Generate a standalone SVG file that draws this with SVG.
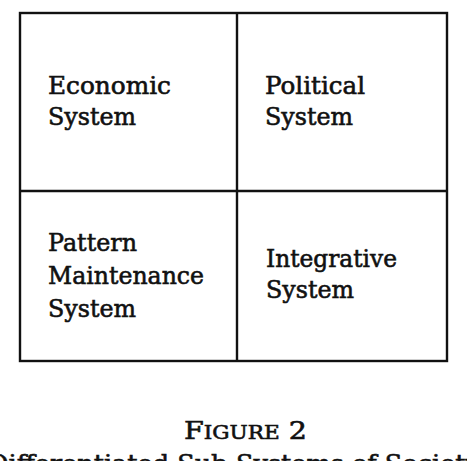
<svg xmlns="http://www.w3.org/2000/svg" width="467" height="461" viewBox="0 0 467 461">
<style>
.lbl{font-family:"DejaVu Serif","Liberation Serif",serif;font-size:24px;fill:#111;stroke:#111;stroke-width:0.6px;}
.frame{stroke:#111;stroke-width:2.4;fill:none;}
.cap{font-family:"DejaVu Serif","Liberation Serif",serif;fill:#111;stroke:#111;stroke-width:0.6px;}
</style>
<rect width="467" height="461" fill="#fff"/>
<g id="connectors">
<rect class="frame" x="20" y="13" width="427" height="348"/>
<line class="frame" x1="237" y1="13" x2="237" y2="361" stroke-width="2"/>
<line class="frame" x1="20" y1="191" x2="447" y2="191"/>
</g>
<g id="economic">
<text class="lbl" x="48" y="93.5" textLength="123" lengthAdjust="spacingAndGlyphs">Economic</text>
<text class="lbl" x="48" y="124.5" textLength="88" lengthAdjust="spacingAndGlyphs">System</text>
</g>
<g id="political">
<text class="lbl" x="265" y="93.5" textLength="100" lengthAdjust="spacingAndGlyphs">Political</text>
<text class="lbl" x="265" y="124.5" textLength="88" lengthAdjust="spacingAndGlyphs">System</text>
</g>
<g id="pattern">
<text class="lbl" x="48" y="250.5" textLength="89" lengthAdjust="spacingAndGlyphs">Pattern</text>
<text class="lbl" x="48" y="283.5" textLength="156" lengthAdjust="spacingAndGlyphs">Maintenance</text>
<text class="lbl" x="48" y="316.5" textLength="88" lengthAdjust="spacingAndGlyphs">System</text>
</g>
<g id="integrative">
<text class="lbl" x="266" y="267" textLength="131" lengthAdjust="spacingAndGlyphs">Integrative</text>
<text class="lbl" x="266" y="298" textLength="88" lengthAdjust="spacingAndGlyphs">System</text>
</g>
<g id="caption">
<text class="cap" x="184" y="439" font-size="24.5" textLength="123" lengthAdjust="spacingAndGlyphs">F<tspan font-size="18.5">IGURE</tspan> 2</text>
<text class="cap" x="-12" y="472" font-size="24" textLength="492" lengthAdjust="spacingAndGlyphs">Differentiated Sub-Systems of Society</text>
</g>
</svg>
